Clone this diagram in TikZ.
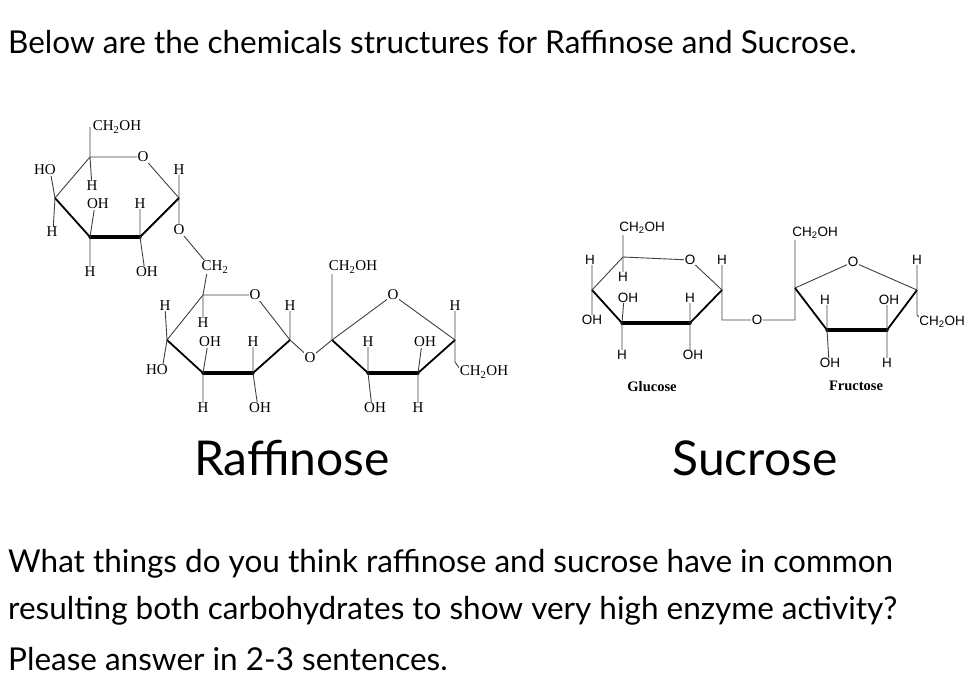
\documentclass[tikz,border=0pt]{standalone}
\usepackage{fontspec}
\setmainfont{Lato}
\newfontfamily\rser{Liberation Serif}
\newfontfamily\rsan{Liberation Sans}
\begin{document}
\begin{tikzpicture}[x=1pt,y=-1pt,
  bd/.style={line width=0.9pt,black!75},
  fr/.style={line width=3.2pt,black,line cap=round},
  sd/.style={line width=1.8pt,black},
  rl/.style={font=\rser\fontsize{15}{15}\selectfont,fill=white,inner sep=0.5pt},
  sl/.style={font=\rsan\fontsize{13.5}{14}\selectfont,fill=white,inner sep=0.5pt},
  tx/.style={font=\fontsize{31.5}{34}\selectfont,anchor=west,inner sep=0pt}]
\useasboundingbox (0,0) rectangle (974,686);
% ---------- Raffinose ring 1
\coordinate (a5) at (90,157); \coordinate (ao) at (143,157); \coordinate (a1) at (179,198);
\coordinate (a4) at (55,198); \coordinate (a3) at (90,237); \coordinate (a2) at (140,237);
\draw[bd] (a5)--(ao)--(a1); \draw[bd] (a5)--(a4);
\draw[sd] (a4)--(a3); \draw[sd] (a2)--(a1); \draw[fr] (a3)--(a2);
\draw[bd] (a5)--(90,127) (a5)--(92,187) (a4)--(50,170) (a4)--(53,232)
  (a3)--(95,205) (a3)--(90,272) (a2)--(140,205) (a2)--(145,272)
  (a1)--(179,170) (a1)--(179,230)--(210,267);
% ring 2
\coordinate (b5) at (203,295); \coordinate (bo) at (255,295); \coordinate (b1) at (290,340);
\coordinate (b4) at (167,340); \coordinate (b3) at (203,373); \coordinate (b2) at (253,373);
\draw[bd] (b5)--(bo)--(b1); \draw[bd] (b5)--(b4);
\draw[sd] (b4)--(b3); \draw[sd] (b2)--(b1); \draw[fr] (b3)--(b2);
\draw[bd] (b5)--(208,267) (b5)--(203,323) (b4)--(165,307) (b4)--(162,370)
  (b3)--(208,343) (b3)--(203,408) (b2)--(253,343) (b2)--(258,408)
  (b1)--(290,307) (b1)--(310,358);
% fructose
\coordinate (c2) at (332,340); \coordinate (co) at (393,295); \coordinate (c5) at (455,340);
\coordinate (c3) at (368,373); \coordinate (c4) at (418,373);
\draw[bd] (c2)--(co)--(c5);
\draw[sd] (c2)--(c3); \draw[sd] (c4)--(c5); \draw[fr] (c3)--(c4);
\draw[bd] (310,358)--(c2) (c2)--(332,268) (c5)--(455,307) (c5)--(455,362)--(462,372)
  (c3)--(368,343) (c3)--(372,408) (c4)--(422,343) (c4)--(418,408);
% raffinose labels
\node[rl] (l1) at (117,127) {CH\textsubscript{2}OH};
\node[rl] (l2) at (143,157) {O};
\node[rl] (l3) at (45,170) {HO};
\node[rl] (l4) at (179,170) {H};
\node[rl] (l5) at (92,186) {H};
\node[rl] (l6) at (98,204) {OH};
\node[rl] (l7) at (140,204) {H};
\node[rl] (l8) at (52,232) {H};
\node[rl] (l9) at (179,230) {O};
\node[rl] (l10) at (90,272) {H};
\node[rl] (l11) at (147,272) {OH};
\node[rl] (l12) at (215,267) {CH\textsubscript{2}};
\node[rl] (l13) at (353,267) {CH\textsubscript{2}OH};
\node[rl] (l14) at (255,295) {O};
\node[rl] (l15) at (393,295) {O};
\node[rl] (l16) at (165,306) {H};
\node[rl] (l17) at (290,306) {H};
\node[rl] (l18) at (455,306) {H};
\node[rl] (l19) at (203,323) {H};
\node[rl] (l20) at (210,342) {OH};
\node[rl] (l21) at (253,342) {H};
\node[rl] (l22) at (368,342) {H};
\node[rl] (l23) at (425,342) {OH};
\node[rl] (l24) at (310,358) {O};
\node[rl] (l25) at (157,370) {HO};
\node[rl] (l26) at (484,372) {CH\textsubscript{2}OH};
\node[rl] (l27) at (203,408) {H};
\node[rl] (l28) at (260,408) {OH};
\node[rl] (l29) at (375,408) {OH};
\node[rl] (l30) at (418,408) {H};
% ---------- Sucrose glucose
\coordinate (g5) at (623,257); \coordinate (go) at (690,260); \coordinate (g1) at (722,290);
\coordinate (g4) at (592,290); \coordinate (g3) at (622,323); \coordinate (g2) at (690,323);
\draw[bd] (g5)--(go)--(g1); \draw[bd] (g5)--(g4);
\draw[sd] (g4)--(g3); \draw[sd] (g2)--(g1); \draw[fr] (g3)--(g2);
\draw[bd] (g5)--(623,235) (g5)--(623,278) (g4)--(592,262) (g4)--(592,318)
  (g3)--(624,298) (g3)--(622,353) (g2)--(690,300) (g2)--(690,353)
  (g1)--(722,262) (g1)--(722,320)--(795,320)--(795,288);
% fructose
\coordinate (f2) at (795,288); \coordinate (fo) at (853,262); \coordinate (f5) at (917,290);
\coordinate (f3) at (827,330); \coordinate (f4) at (887,330);
\draw[bd] (f2)--(fo)--(f5);
\draw[sd] (f2)--(f3); \draw[sd] (f4)--(f5); \draw[fr] (f3)--(f4);
\draw[bd] (f2)--(795,240) (f5)--(917,262) (f5)--(917,315)--(925,322)
  (f3)--(827,302) (f3)--(829,362) (f4)--(887,302) (f4)--(887,362);
\node[sl] (s1) at (642,228) {CH\textsubscript{2}OH};
\node[sl] (s2) at (815,233) {CH\textsubscript{2}OH};
\node[sl] (s3) at (590,260) {H};
\node[sl] (s4) at (690,260) {O};
\node[sl] (s5) at (722,260) {H};
\node[sl] (s6) at (853,262) {O};
\node[sl] (s7) at (917,260) {H};
\node[sl] (s8) at (623,277) {H};
\node[sl] (s9) at (628,298) {OH};
\node[sl] (s10) at (690,298) {H};
\node[sl] (s11) at (825,300) {H};
\node[sl] (s12) at (889,300) {OH};
\node[sl] (s13) at (592,320) {OH};
\node[sl] (s14) at (757,320) {O};
\node[sl] (s15) at (942,322) {CH\textsubscript{2}OH};
\node[sl] (s16) at (622,355) {H};
\node[sl] (s17) at (693,355) {OH};
\node[sl] (s18) at (830,363) {OH};
\node[sl] (s19) at (887,363) {H};
\node[font=\rser\bfseries\fontsize{14.5}{15}\selectfont] (gl) at (652,387) {Glucose};
\node[font=\rser\bfseries\fontsize{14.5}{15}\selectfont] (fl) at (856,386) {Fructose};
% ---------- text
\node[tx] (t0) at (8,42) {Below are the chemicals structures for Raffinose and Sucrose.};
\node[font=\fontsize{48}{50}\selectfont,inner sep=0pt] (rn) at (292,458) {Raffinose};
\node[font=\fontsize{48}{50}\selectfont,inner sep=0pt] (sn) at (755,458) {Sucrose};
\node[tx] (t1) at (8,564) {What things do you think raffinose and sucrose have in common};
\node[tx] (t2) at (8,611) {resulting both carbohydrates to show very high enzyme activity?};
\node[tx] (t3) at (8,659) {Please answer in 2-3 sentences.};
\end{tikzpicture}
\end{document}
